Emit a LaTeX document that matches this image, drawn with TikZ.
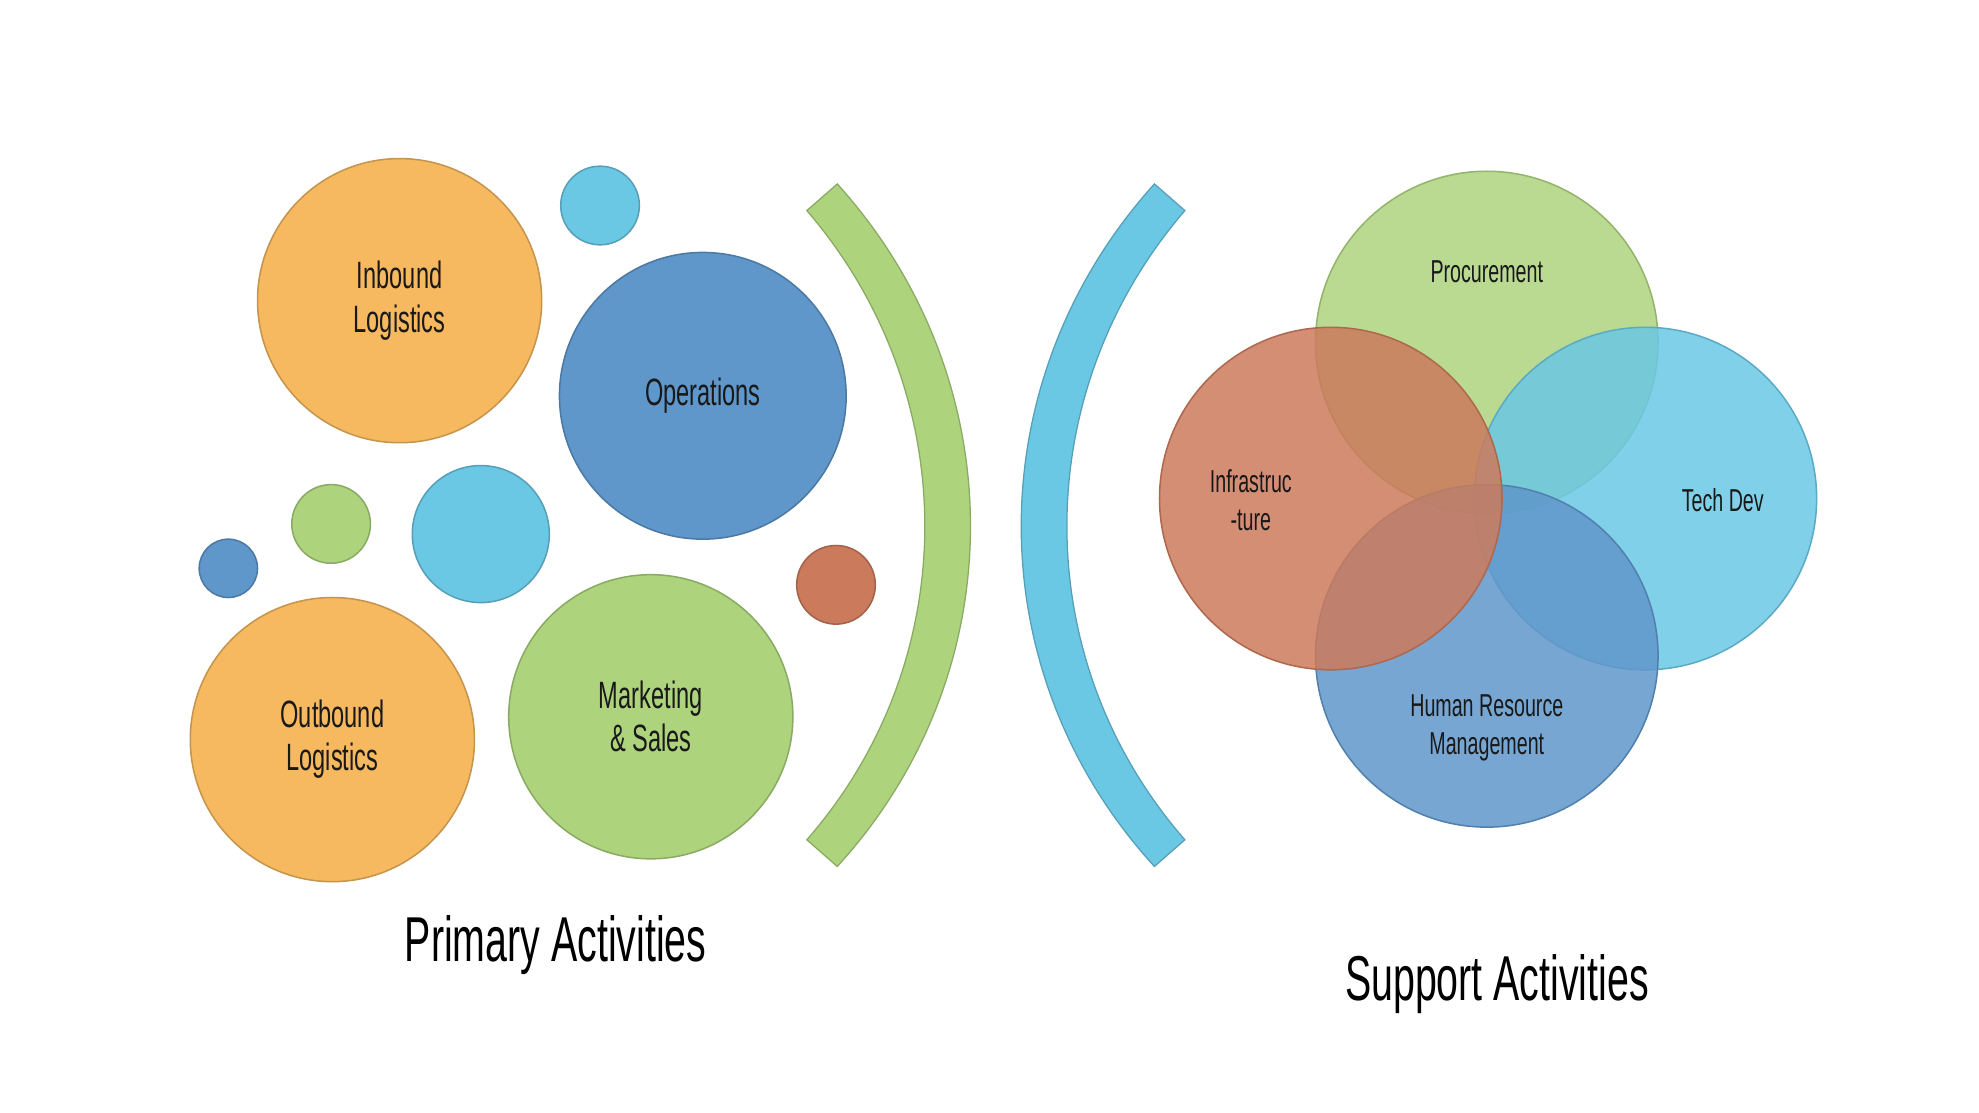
\documentclass[tikz,border=0pt]{standalone}
\usepackage{fontspec}
\setmainfont{Liberation Sans}
\usepackage{graphicx}
\definecolor{corange}{HTML}{F6B960}
\definecolor{cblue}{HTML}{5F97CB}
\definecolor{cgreen}{HTML}{ADD47D}
\definecolor{ccyan}{HTML}{6BC8E5}
\definecolor{cred}{HTML}{CC7A5C}
\newcommand{\nar}[1]{\scalebox{0.62}[1]{#1}}
\tikzset{
  bub/.style={circle,inner sep=0pt,draw=#1!80!black,line width=1.2pt,fill=#1},
  lbl/.style={font=\fontsize{30}{34}\selectfont,align=center,text=black!90},
  slbl/.style={font=\fontsize{25}{30}\selectfont,align=center,text=black!90},
  venn/.style={circle,inner sep=0pt,minimum size=270pt,fill=#1,fill opacity=0.85,draw=#1!85!black,line width=1.2pt},
}
\begin{document}
\begin{tikzpicture}[x=1pt,y=-1pt]
\useasboundingbox (0,0) rectangle (1560,877);
% left bubbles
\node[bub=corange,minimum size=224pt] (inb) at (315,237) {};
\node[bub=ccyan,minimum size=62pt] (c1) at (473,162) {};
\node[bub=cblue,minimum size=226pt] (ops) at (554,312) {};
\node[bub=cgreen,minimum size=62pt] (c2) at (261,413) {};
\node[bub=cblue,minimum size=46pt] (c3) at (180,448) {};
\node[bub=ccyan,minimum size=108pt] (c4) at (379,421) {};
\node[bub=cred,minimum size=62pt] (c5) at (659,461) {};
\node[bub=corange,minimum size=224pt] (outb) at (262,583) {};
\node[bub=cgreen,minimum size=224pt] (mkt) at (513,565) {};
\node[lbl] (tinb) at (315,237) {\nar{Inbound}\\\nar{Logistics}};
\node[lbl] (tops) at (554,312) {\nar{Operations}};
\node[lbl] (toutb) at (262,583) {\nar{Outbound}\\\nar{Logistics}};
\node[lbl] (tmkt) at (513,565) {\nar{Marketing}\\\nar{\& Sales}};
% brackets
\fill[cgreen,draw=cgreen!80!black,line width=1pt] (660,145) .. controls (800,300) and (800,530) .. (660,683)
  -- (636,662) .. controls (760,520) and (760,310) .. (636,166) -- cycle;
\fill[ccyan,draw=ccyan!80!black,line width=1pt] (910,145) .. controls (770,300) and (770,530) .. (910,683)
  -- (934,662) .. controls (810,520) and (810,310) .. (934,166) -- cycle;
% venn
\node[venn=cgreen] (pro) at (1172,270) {};
\node[venn=ccyan] (tech) at (1297,393) {};
\node[venn=cblue] (hr) at (1172,517) {};
\node[venn=cred] (inf) at (1049,393) {};
\node[slbl] (tpro) at (1172,214) {\nar{Procurement}};
\node[slbl] (ttech) at (1358,394) {\nar{Tech Dev}};
\node[slbl] (thr) at (1172,574) {\nar{Human Resource}\\\nar{Management}};
\node[slbl] (tinf) at (986,394) {\nar{Infrastruc}\\\nar{-ture}};
\node[font=\fontsize{50}{56}\selectfont] (prim) at (438,745) {\nar{Primary Activities}};
\node[font=\fontsize{50}{56}\selectfont] (supp) at (1180,776) {\nar{Support Activities}};
\end{tikzpicture}
\end{document}
